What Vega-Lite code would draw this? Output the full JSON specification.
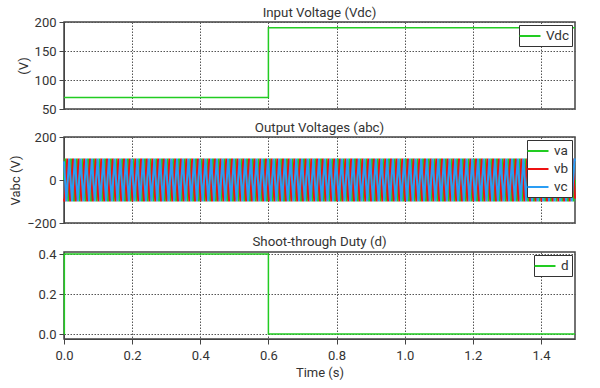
{
"$schema": "https://vega.github.io/schema/vega-lite/v6.json",
"padding": {"left": 8, "top": 4, "right": 20, "bottom": 2},
"background": "white",
"config": {
  "font": "Roboto",
  "view": {"stroke": "#444", "strokeWidth": 1.5},
  "axis": {"labelColor": "#333", "labelFontSize": 13, "labelFont": "Roboto", "labelFlush": false, "tickColor": "#444", "domainColor": "#444", "tickSize": 5, "labelPadding": 3, "gridColor": "#555", "gridDash": [1.5, 1.5], "gridOpacity": 1, "titleFontWeight": "normal", "titleFontSize": 13, "titleColor": "#333", "titleFont": "Roboto"},
  "title": {"fontSize": 13.3, "fontWeight": "normal", "color": "#333", "offset": -3, "font": "Roboto"},
  "legend": {"orient": "top-right", "offset": 3, "fillColor": "white", "strokeColor": "#333", "padding": 3, "labelFontSize": 13.5, "labelColor": "#333", "labelFont": "Roboto", "symbolType": "M-1.5,0L1.5,0", "symbolSize": 196, "symbolStrokeWidth": 2, "labelOffset": 8, "rowPadding": 3, "title": null},
  "concat": {"spacing": 2}
},
"resolve": {"scale": {"color": "independent"}, "legend": {"color": "independent"}},
"datasets": {
  "dc": [
    {"t": 0, "s": "Vdc", "v": 70},
    {"t": 0.6, "s": "Vdc", "v": 190},
    {"t": 1.5, "s": "Vdc", "v": 190}
  ],
  "duty": [
    {"t": 0, "s": "d", "v": 0},
    {"t": 0.001, "s": "d", "v": 0.4},
    {"t": 0.6, "s": "d", "v": 0},
    {"t": 1.5, "s": "d", "v": 0}
  ],
  "vabc": [
{"t":0,"s":"va","v":0},{"t":0,"s":"vb","v":-86.6},{"t":0,"s":"vc","v":86.6},
{"t":0.0014,"s":"vb","v":-100},{"t":0.0042,"s":"va","v":100},{"t":0.0069,"s":"vc","v":-100},{"t":0.0097,"s":"vb","v":100},{"t":0.0125,"s":"va","v":-100},{"t":0.0153,"s":"vc","v":100},{"t":0.0181,"s":"vb","v":-100},{"t":0.0208,"s":"va","v":100},{"t":0.0236,"s":"vc","v":-100},{"t":0.0264,"s":"vb","v":100},{"t":0.0292,"s":"va","v":-100},{"t":0.0319,"s":"vc","v":100},{"t":0.0347,"s":"vb","v":-100},{"t":0.0375,"s":"va","v":100},{"t":0.0403,"s":"vc","v":-100},{"t":0.0431,"s":"vb","v":100},{"t":0.0458,"s":"va","v":-100},{"t":0.0486,"s":"vc","v":100},
{"t":0.0514,"s":"vb","v":-100},{"t":0.0542,"s":"va","v":100},{"t":0.0569,"s":"vc","v":-100},{"t":0.0597,"s":"vb","v":100},{"t":0.0625,"s":"va","v":-100},{"t":0.0653,"s":"vc","v":100},{"t":0.0681,"s":"vb","v":-100},{"t":0.0708,"s":"va","v":100},{"t":0.0736,"s":"vc","v":-100},{"t":0.0764,"s":"vb","v":100},{"t":0.0792,"s":"va","v":-100},{"t":0.0819,"s":"vc","v":100},{"t":0.0847,"s":"vb","v":-100},{"t":0.0875,"s":"va","v":100},{"t":0.0903,"s":"vc","v":-100},{"t":0.0931,"s":"vb","v":100},{"t":0.0958,"s":"va","v":-100},{"t":0.0986,"s":"vc","v":100},
{"t":0.1014,"s":"vb","v":-100},{"t":0.1042,"s":"va","v":100},{"t":0.1069,"s":"vc","v":-100},{"t":0.1097,"s":"vb","v":100},{"t":0.1125,"s":"va","v":-100},{"t":0.1153,"s":"vc","v":100},{"t":0.1181,"s":"vb","v":-100},{"t":0.1208,"s":"va","v":100},{"t":0.1236,"s":"vc","v":-100},{"t":0.1264,"s":"vb","v":100},{"t":0.1292,"s":"va","v":-100},{"t":0.1319,"s":"vc","v":100},{"t":0.1347,"s":"vb","v":-100},{"t":0.1375,"s":"va","v":100},{"t":0.1403,"s":"vc","v":-100},{"t":0.1431,"s":"vb","v":100},{"t":0.1458,"s":"va","v":-100},{"t":0.1486,"s":"vc","v":100},
{"t":0.1514,"s":"vb","v":-100},{"t":0.1542,"s":"va","v":100},{"t":0.1569,"s":"vc","v":-100},{"t":0.1597,"s":"vb","v":100},{"t":0.1625,"s":"va","v":-100},{"t":0.1653,"s":"vc","v":100},{"t":0.1681,"s":"vb","v":-100},{"t":0.1708,"s":"va","v":100},{"t":0.1736,"s":"vc","v":-100},{"t":0.1764,"s":"vb","v":100},{"t":0.1792,"s":"va","v":-100},{"t":0.1819,"s":"vc","v":100},{"t":0.1847,"s":"vb","v":-100},{"t":0.1875,"s":"va","v":100},{"t":0.1903,"s":"vc","v":-100},{"t":0.1931,"s":"vb","v":100},{"t":0.1958,"s":"va","v":-100},{"t":0.1986,"s":"vc","v":100},
{"t":0.2014,"s":"vb","v":-100},{"t":0.2042,"s":"va","v":100},{"t":0.2069,"s":"vc","v":-100},{"t":0.2097,"s":"vb","v":100},{"t":0.2125,"s":"va","v":-100},{"t":0.2153,"s":"vc","v":100},{"t":0.2181,"s":"vb","v":-100},{"t":0.2208,"s":"va","v":100},{"t":0.2236,"s":"vc","v":-100},{"t":0.2264,"s":"vb","v":100},{"t":0.2292,"s":"va","v":-100},{"t":0.2319,"s":"vc","v":100},{"t":0.2347,"s":"vb","v":-100},{"t":0.2375,"s":"va","v":100},{"t":0.2403,"s":"vc","v":-100},{"t":0.2431,"s":"vb","v":100},{"t":0.2458,"s":"va","v":-100},{"t":0.2486,"s":"vc","v":100},
{"t":0.2514,"s":"vb","v":-100},{"t":0.2542,"s":"va","v":100},{"t":0.2569,"s":"vc","v":-100},{"t":0.2597,"s":"vb","v":100},{"t":0.2625,"s":"va","v":-100},{"t":0.2653,"s":"vc","v":100},{"t":0.2681,"s":"vb","v":-100},{"t":0.2708,"s":"va","v":100},{"t":0.2736,"s":"vc","v":-100},{"t":0.2764,"s":"vb","v":100},{"t":0.2792,"s":"va","v":-100},{"t":0.2819,"s":"vc","v":100},{"t":0.2847,"s":"vb","v":-100},{"t":0.2875,"s":"va","v":100},{"t":0.2903,"s":"vc","v":-100},{"t":0.2931,"s":"vb","v":100},{"t":0.2958,"s":"va","v":-100},{"t":0.2986,"s":"vc","v":100},
{"t":0.3014,"s":"vb","v":-100},{"t":0.3042,"s":"va","v":100},{"t":0.3069,"s":"vc","v":-100},{"t":0.3097,"s":"vb","v":100},{"t":0.3125,"s":"va","v":-100},{"t":0.3153,"s":"vc","v":100},{"t":0.3181,"s":"vb","v":-100},{"t":0.3208,"s":"va","v":100},{"t":0.3236,"s":"vc","v":-100},{"t":0.3264,"s":"vb","v":100},{"t":0.3292,"s":"va","v":-100},{"t":0.3319,"s":"vc","v":100},{"t":0.3347,"s":"vb","v":-100},{"t":0.3375,"s":"va","v":100},{"t":0.3403,"s":"vc","v":-100},{"t":0.3431,"s":"vb","v":100},{"t":0.3458,"s":"va","v":-100},{"t":0.3486,"s":"vc","v":100},
{"t":0.3514,"s":"vb","v":-100},{"t":0.3542,"s":"va","v":100},{"t":0.3569,"s":"vc","v":-100},{"t":0.3597,"s":"vb","v":100},{"t":0.3625,"s":"va","v":-100},{"t":0.3653,"s":"vc","v":100},{"t":0.3681,"s":"vb","v":-100},{"t":0.3708,"s":"va","v":100},{"t":0.3736,"s":"vc","v":-100},{"t":0.3764,"s":"vb","v":100},{"t":0.3792,"s":"va","v":-100},{"t":0.3819,"s":"vc","v":100},{"t":0.3847,"s":"vb","v":-100},{"t":0.3875,"s":"va","v":100},{"t":0.3903,"s":"vc","v":-100},{"t":0.3931,"s":"vb","v":100},{"t":0.3958,"s":"va","v":-100},{"t":0.3986,"s":"vc","v":100},
{"t":0.4014,"s":"vb","v":-100},{"t":0.4042,"s":"va","v":100},{"t":0.4069,"s":"vc","v":-100},{"t":0.4097,"s":"vb","v":100},{"t":0.4125,"s":"va","v":-100},{"t":0.4153,"s":"vc","v":100},{"t":0.4181,"s":"vb","v":-100},{"t":0.4208,"s":"va","v":100},{"t":0.4236,"s":"vc","v":-100},{"t":0.4264,"s":"vb","v":100},{"t":0.4292,"s":"va","v":-100},{"t":0.4319,"s":"vc","v":100},{"t":0.4347,"s":"vb","v":-100},{"t":0.4375,"s":"va","v":100},{"t":0.4403,"s":"vc","v":-100},{"t":0.4431,"s":"vb","v":100},{"t":0.4458,"s":"va","v":-100},{"t":0.4486,"s":"vc","v":100},
{"t":0.4514,"s":"vb","v":-100},{"t":0.4542,"s":"va","v":100},{"t":0.4569,"s":"vc","v":-100},{"t":0.4597,"s":"vb","v":100},{"t":0.4625,"s":"va","v":-100},{"t":0.4653,"s":"vc","v":100},{"t":0.4681,"s":"vb","v":-100},{"t":0.4708,"s":"va","v":100},{"t":0.4736,"s":"vc","v":-100},{"t":0.4764,"s":"vb","v":100},{"t":0.4792,"s":"va","v":-100},{"t":0.4819,"s":"vc","v":100},{"t":0.4847,"s":"vb","v":-100},{"t":0.4875,"s":"va","v":100},{"t":0.4903,"s":"vc","v":-100},{"t":0.4931,"s":"vb","v":100},{"t":0.4958,"s":"va","v":-100},{"t":0.4986,"s":"vc","v":100},
{"t":0.5014,"s":"vb","v":-100},{"t":0.5042,"s":"va","v":100},{"t":0.5069,"s":"vc","v":-100},{"t":0.5097,"s":"vb","v":100},{"t":0.5125,"s":"va","v":-100},{"t":0.5153,"s":"vc","v":100},{"t":0.5181,"s":"vb","v":-100},{"t":0.5208,"s":"va","v":100},{"t":0.5236,"s":"vc","v":-100},{"t":0.5264,"s":"vb","v":100},{"t":0.5292,"s":"va","v":-100},{"t":0.5319,"s":"vc","v":100},{"t":0.5347,"s":"vb","v":-100},{"t":0.5375,"s":"va","v":100},{"t":0.5403,"s":"vc","v":-100},{"t":0.5431,"s":"vb","v":100},{"t":0.5458,"s":"va","v":-100},{"t":0.5486,"s":"vc","v":100},
{"t":0.5514,"s":"vb","v":-100},{"t":0.5542,"s":"va","v":100},{"t":0.5569,"s":"vc","v":-100},{"t":0.5597,"s":"vb","v":100},{"t":0.5625,"s":"va","v":-100},{"t":0.5653,"s":"vc","v":100},{"t":0.5681,"s":"vb","v":-100},{"t":0.5708,"s":"va","v":100},{"t":0.5736,"s":"vc","v":-100},{"t":0.5764,"s":"vb","v":100},{"t":0.5792,"s":"va","v":-100},{"t":0.5819,"s":"vc","v":100},{"t":0.5847,"s":"vb","v":-100},{"t":0.5875,"s":"va","v":100},{"t":0.5903,"s":"vc","v":-100},{"t":0.5931,"s":"vb","v":100},{"t":0.5958,"s":"va","v":-100},{"t":0.5986,"s":"vc","v":100},
{"t":0.6014,"s":"vb","v":-100},{"t":0.6042,"s":"va","v":100},{"t":0.6069,"s":"vc","v":-100},{"t":0.6097,"s":"vb","v":100},{"t":0.6125,"s":"va","v":-100},{"t":0.6153,"s":"vc","v":100},{"t":0.6181,"s":"vb","v":-100},{"t":0.6208,"s":"va","v":100},{"t":0.6236,"s":"vc","v":-100},{"t":0.6264,"s":"vb","v":100},{"t":0.6292,"s":"va","v":-100},{"t":0.6319,"s":"vc","v":100},{"t":0.6347,"s":"vb","v":-100},{"t":0.6375,"s":"va","v":100},{"t":0.6403,"s":"vc","v":-100},{"t":0.6431,"s":"vb","v":100},{"t":0.6458,"s":"va","v":-100},{"t":0.6486,"s":"vc","v":100},
{"t":0.6514,"s":"vb","v":-100},{"t":0.6542,"s":"va","v":100},{"t":0.6569,"s":"vc","v":-100},{"t":0.6597,"s":"vb","v":100},{"t":0.6625,"s":"va","v":-100},{"t":0.6653,"s":"vc","v":100},{"t":0.6681,"s":"vb","v":-100},{"t":0.6708,"s":"va","v":100},{"t":0.6736,"s":"vc","v":-100},{"t":0.6764,"s":"vb","v":100},{"t":0.6792,"s":"va","v":-100},{"t":0.6819,"s":"vc","v":100},{"t":0.6847,"s":"vb","v":-100},{"t":0.6875,"s":"va","v":100},{"t":0.6903,"s":"vc","v":-100},{"t":0.6931,"s":"vb","v":100},{"t":0.6958,"s":"va","v":-100},{"t":0.6986,"s":"vc","v":100},
{"t":0.7014,"s":"vb","v":-100},{"t":0.7042,"s":"va","v":100},{"t":0.7069,"s":"vc","v":-100},{"t":0.7097,"s":"vb","v":100},{"t":0.7125,"s":"va","v":-100},{"t":0.7153,"s":"vc","v":100},{"t":0.7181,"s":"vb","v":-100},{"t":0.7208,"s":"va","v":100},{"t":0.7236,"s":"vc","v":-100},{"t":0.7264,"s":"vb","v":100},{"t":0.7292,"s":"va","v":-100},{"t":0.7319,"s":"vc","v":100},{"t":0.7347,"s":"vb","v":-100},{"t":0.7375,"s":"va","v":100},{"t":0.7403,"s":"vc","v":-100},{"t":0.7431,"s":"vb","v":100},{"t":0.7458,"s":"va","v":-100},{"t":0.7486,"s":"vc","v":100},
{"t":0.7514,"s":"vb","v":-100},{"t":0.7542,"s":"va","v":100},{"t":0.7569,"s":"vc","v":-100},{"t":0.7597,"s":"vb","v":100},{"t":0.7625,"s":"va","v":-100},{"t":0.7653,"s":"vc","v":100},{"t":0.7681,"s":"vb","v":-100},{"t":0.7708,"s":"va","v":100},{"t":0.7736,"s":"vc","v":-100},{"t":0.7764,"s":"vb","v":100},{"t":0.7792,"s":"va","v":-100},{"t":0.7819,"s":"vc","v":100},{"t":0.7847,"s":"vb","v":-100},{"t":0.7875,"s":"va","v":100},{"t":0.7903,"s":"vc","v":-100},{"t":0.7931,"s":"vb","v":100},{"t":0.7958,"s":"va","v":-100},{"t":0.7986,"s":"vc","v":100},
{"t":0.8014,"s":"vb","v":-100},{"t":0.8042,"s":"va","v":100},{"t":0.8069,"s":"vc","v":-100},{"t":0.8097,"s":"vb","v":100},{"t":0.8125,"s":"va","v":-100},{"t":0.8153,"s":"vc","v":100},{"t":0.8181,"s":"vb","v":-100},{"t":0.8208,"s":"va","v":100},{"t":0.8236,"s":"vc","v":-100},{"t":0.8264,"s":"vb","v":100},{"t":0.8292,"s":"va","v":-100},{"t":0.8319,"s":"vc","v":100},{"t":0.8347,"s":"vb","v":-100},{"t":0.8375,"s":"va","v":100},{"t":0.8403,"s":"vc","v":-100},{"t":0.8431,"s":"vb","v":100},{"t":0.8458,"s":"va","v":-100},{"t":0.8486,"s":"vc","v":100},
{"t":0.8514,"s":"vb","v":-100},{"t":0.8542,"s":"va","v":100},{"t":0.8569,"s":"vc","v":-100},{"t":0.8597,"s":"vb","v":100},{"t":0.8625,"s":"va","v":-100},{"t":0.8653,"s":"vc","v":100},{"t":0.8681,"s":"vb","v":-100},{"t":0.8708,"s":"va","v":100},{"t":0.8736,"s":"vc","v":-100},{"t":0.8764,"s":"vb","v":100},{"t":0.8792,"s":"va","v":-100},{"t":0.8819,"s":"vc","v":100},{"t":0.8847,"s":"vb","v":-100},{"t":0.8875,"s":"va","v":100},{"t":0.8903,"s":"vc","v":-100},{"t":0.8931,"s":"vb","v":100},{"t":0.8958,"s":"va","v":-100},{"t":0.8986,"s":"vc","v":100},
{"t":0.9014,"s":"vb","v":-100},{"t":0.9042,"s":"va","v":100},{"t":0.9069,"s":"vc","v":-100},{"t":0.9097,"s":"vb","v":100},{"t":0.9125,"s":"va","v":-100},{"t":0.9153,"s":"vc","v":100},{"t":0.9181,"s":"vb","v":-100},{"t":0.9208,"s":"va","v":100},{"t":0.9236,"s":"vc","v":-100},{"t":0.9264,"s":"vb","v":100},{"t":0.9292,"s":"va","v":-100},{"t":0.9319,"s":"vc","v":100},{"t":0.9347,"s":"vb","v":-100},{"t":0.9375,"s":"va","v":100},{"t":0.9403,"s":"vc","v":-100},{"t":0.9431,"s":"vb","v":100},{"t":0.9458,"s":"va","v":-100},{"t":0.9486,"s":"vc","v":100},
{"t":0.9514,"s":"vb","v":-100},{"t":0.9542,"s":"va","v":100},{"t":0.9569,"s":"vc","v":-100},{"t":0.9597,"s":"vb","v":100},{"t":0.9625,"s":"va","v":-100},{"t":0.9653,"s":"vc","v":100},{"t":0.9681,"s":"vb","v":-100},{"t":0.9708,"s":"va","v":100},{"t":0.9736,"s":"vc","v":-100},{"t":0.9764,"s":"vb","v":100},{"t":0.9792,"s":"va","v":-100},{"t":0.9819,"s":"vc","v":100},{"t":0.9847,"s":"vb","v":-100},{"t":0.9875,"s":"va","v":100},{"t":0.9903,"s":"vc","v":-100},{"t":0.9931,"s":"vb","v":100},{"t":0.9958,"s":"va","v":-100},{"t":0.9986,"s":"vc","v":100},
{"t":1.0014,"s":"vb","v":-100},{"t":1.0042,"s":"va","v":100},{"t":1.0069,"s":"vc","v":-100},{"t":1.0097,"s":"vb","v":100},{"t":1.0125,"s":"va","v":-100},{"t":1.0153,"s":"vc","v":100},{"t":1.0181,"s":"vb","v":-100},{"t":1.0208,"s":"va","v":100},{"t":1.0236,"s":"vc","v":-100},{"t":1.0264,"s":"vb","v":100},{"t":1.0292,"s":"va","v":-100},{"t":1.0319,"s":"vc","v":100},{"t":1.0347,"s":"vb","v":-100},{"t":1.0375,"s":"va","v":100},{"t":1.0403,"s":"vc","v":-100},{"t":1.0431,"s":"vb","v":100},{"t":1.0458,"s":"va","v":-100},{"t":1.0486,"s":"vc","v":100},
{"t":1.0514,"s":"vb","v":-100},{"t":1.0542,"s":"va","v":100},{"t":1.0569,"s":"vc","v":-100},{"t":1.0597,"s":"vb","v":100},{"t":1.0625,"s":"va","v":-100},{"t":1.0653,"s":"vc","v":100},{"t":1.0681,"s":"vb","v":-100},{"t":1.0708,"s":"va","v":100},{"t":1.0736,"s":"vc","v":-100},{"t":1.0764,"s":"vb","v":100},{"t":1.0792,"s":"va","v":-100},{"t":1.0819,"s":"vc","v":100},{"t":1.0847,"s":"vb","v":-100},{"t":1.0875,"s":"va","v":100},{"t":1.0903,"s":"vc","v":-100},{"t":1.0931,"s":"vb","v":100},{"t":1.0958,"s":"va","v":-100},{"t":1.0986,"s":"vc","v":100},
{"t":1.1014,"s":"vb","v":-100},{"t":1.1042,"s":"va","v":100},{"t":1.1069,"s":"vc","v":-100},{"t":1.1097,"s":"vb","v":100},{"t":1.1125,"s":"va","v":-100},{"t":1.1153,"s":"vc","v":100},{"t":1.1181,"s":"vb","v":-100},{"t":1.1208,"s":"va","v":100},{"t":1.1236,"s":"vc","v":-100},{"t":1.1264,"s":"vb","v":100},{"t":1.1292,"s":"va","v":-100},{"t":1.1319,"s":"vc","v":100},{"t":1.1347,"s":"vb","v":-100},{"t":1.1375,"s":"va","v":100},{"t":1.1403,"s":"vc","v":-100},{"t":1.1431,"s":"vb","v":100},{"t":1.1458,"s":"va","v":-100},{"t":1.1486,"s":"vc","v":100},
{"t":1.1514,"s":"vb","v":-100},{"t":1.1542,"s":"va","v":100},{"t":1.1569,"s":"vc","v":-100},{"t":1.1597,"s":"vb","v":100},{"t":1.1625,"s":"va","v":-100},{"t":1.1653,"s":"vc","v":100},{"t":1.1681,"s":"vb","v":-100},{"t":1.1708,"s":"va","v":100},{"t":1.1736,"s":"vc","v":-100},{"t":1.1764,"s":"vb","v":100},{"t":1.1792,"s":"va","v":-100},{"t":1.1819,"s":"vc","v":100},{"t":1.1847,"s":"vb","v":-100},{"t":1.1875,"s":"va","v":100},{"t":1.1903,"s":"vc","v":-100},{"t":1.1931,"s":"vb","v":100},{"t":1.1958,"s":"va","v":-100},{"t":1.1986,"s":"vc","v":100},
{"t":1.2014,"s":"vb","v":-100},{"t":1.2042,"s":"va","v":100},{"t":1.2069,"s":"vc","v":-100},{"t":1.2097,"s":"vb","v":100},{"t":1.2125,"s":"va","v":-100},{"t":1.2153,"s":"vc","v":100},{"t":1.2181,"s":"vb","v":-100},{"t":1.2208,"s":"va","v":100},{"t":1.2236,"s":"vc","v":-100},{"t":1.2264,"s":"vb","v":100},{"t":1.2292,"s":"va","v":-100},{"t":1.2319,"s":"vc","v":100},{"t":1.2347,"s":"vb","v":-100},{"t":1.2375,"s":"va","v":100},{"t":1.2403,"s":"vc","v":-100},{"t":1.2431,"s":"vb","v":100},{"t":1.2458,"s":"va","v":-100},{"t":1.2486,"s":"vc","v":100},
{"t":1.2514,"s":"vb","v":-100},{"t":1.2542,"s":"va","v":100},{"t":1.2569,"s":"vc","v":-100},{"t":1.2597,"s":"vb","v":100},{"t":1.2625,"s":"va","v":-100},{"t":1.2653,"s":"vc","v":100},{"t":1.2681,"s":"vb","v":-100},{"t":1.2708,"s":"va","v":100},{"t":1.2736,"s":"vc","v":-100},{"t":1.2764,"s":"vb","v":100},{"t":1.2792,"s":"va","v":-100},{"t":1.2819,"s":"vc","v":100},{"t":1.2847,"s":"vb","v":-100},{"t":1.2875,"s":"va","v":100},{"t":1.2903,"s":"vc","v":-100},{"t":1.2931,"s":"vb","v":100},{"t":1.2958,"s":"va","v":-100},{"t":1.2986,"s":"vc","v":100},
{"t":1.3014,"s":"vb","v":-100},{"t":1.3042,"s":"va","v":100},{"t":1.3069,"s":"vc","v":-100},{"t":1.3097,"s":"vb","v":100},{"t":1.3125,"s":"va","v":-100},{"t":1.3153,"s":"vc","v":100},{"t":1.3181,"s":"vb","v":-100},{"t":1.3208,"s":"va","v":100},{"t":1.3236,"s":"vc","v":-100},{"t":1.3264,"s":"vb","v":100},{"t":1.3292,"s":"va","v":-100},{"t":1.3319,"s":"vc","v":100},{"t":1.3347,"s":"vb","v":-100},{"t":1.3375,"s":"va","v":100},{"t":1.3403,"s":"vc","v":-100},{"t":1.3431,"s":"vb","v":100},{"t":1.3458,"s":"va","v":-100},{"t":1.3486,"s":"vc","v":100},
{"t":1.3514,"s":"vb","v":-100},{"t":1.3542,"s":"va","v":100},{"t":1.3569,"s":"vc","v":-100},{"t":1.3597,"s":"vb","v":100},{"t":1.3625,"s":"va","v":-100},{"t":1.3653,"s":"vc","v":100},{"t":1.3681,"s":"vb","v":-100},{"t":1.3708,"s":"va","v":100},{"t":1.3736,"s":"vc","v":-100},{"t":1.3764,"s":"vb","v":100},{"t":1.3792,"s":"va","v":-100},{"t":1.3819,"s":"vc","v":100},{"t":1.3847,"s":"vb","v":-100},{"t":1.3875,"s":"va","v":100},{"t":1.3903,"s":"vc","v":-100},{"t":1.3931,"s":"vb","v":100},{"t":1.3958,"s":"va","v":-100},{"t":1.3986,"s":"vc","v":100},
{"t":1.4014,"s":"vb","v":-100},{"t":1.4042,"s":"va","v":100},{"t":1.4069,"s":"vc","v":-100},{"t":1.4097,"s":"vb","v":100},{"t":1.4125,"s":"va","v":-100},{"t":1.4153,"s":"vc","v":100},{"t":1.4181,"s":"vb","v":-100},{"t":1.4208,"s":"va","v":100},{"t":1.4236,"s":"vc","v":-100},{"t":1.4264,"s":"vb","v":100},{"t":1.4292,"s":"va","v":-100},{"t":1.4319,"s":"vc","v":100},{"t":1.4347,"s":"vb","v":-100},{"t":1.4375,"s":"va","v":100},{"t":1.4403,"s":"vc","v":-100},{"t":1.4431,"s":"vb","v":100},{"t":1.4458,"s":"va","v":-100},{"t":1.4486,"s":"vc","v":100},
{"t":1.4514,"s":"vb","v":-100},{"t":1.4542,"s":"va","v":100},{"t":1.4569,"s":"vc","v":-100},{"t":1.4597,"s":"vb","v":100},{"t":1.4625,"s":"va","v":-100},{"t":1.4653,"s":"vc","v":100},{"t":1.4681,"s":"vb","v":-100},{"t":1.4708,"s":"va","v":100},{"t":1.4736,"s":"vc","v":-100},{"t":1.4764,"s":"vb","v":100},{"t":1.4792,"s":"va","v":-100},{"t":1.4819,"s":"vc","v":100},{"t":1.4847,"s":"vb","v":-100},{"t":1.4875,"s":"va","v":100},{"t":1.4903,"s":"vc","v":-100},{"t":1.4931,"s":"vb","v":100},{"t":1.4958,"s":"va","v":-100},{"t":1.4986,"s":"vc","v":100},
{"t":1.5,"s":"va","v":0},{"t":1.5,"s":"vb","v":-86.6},{"t":1.5,"s":"vc","v":86.6}
  ]
},
"vconcat": [
  {
    "title": "Input Voltage (Vdc)",
    "width": 511, "height": 87,
    "data": {"name": "dc"},
    "mark": {"type": "line", "interpolate": "step-after", "strokeWidth": 1.5},
    "encoding": {
      "x": {"field": "t", "type": "quantitative", "scale": {"domain": [0, 1.5], "nice": false}, "axis": {"values": [0, 0.2, 0.4, 0.6, 0.8, 1, 1.2, 1.4], "labels": false, "ticks": false, "domain": false, "title": null}},
      "y": {"field": "v", "type": "quantitative", "scale": {"domain": [50, 200], "nice": false, "zero": false}, "axis": {"values": [50, 100, 150, 200], "title": "(V)"}},
      "color": {"field": "s", "type": "nominal", "scale": {"domain": ["Vdc"], "range": ["#22cc22"]}}
    }
  },
  {
    "title": "Output Voltages (abc)",
    "width": 511, "height": 86,
    "data": {"name": "vabc"},
    "mark": {"type": "line", "strokeWidth": 2},
    "encoding": {
      "x": {"field": "t", "type": "quantitative", "scale": {"domain": [0, 1.5], "nice": false}, "axis": {"values": [0, 0.2, 0.4, 0.6, 0.8, 1, 1.2, 1.4], "labels": false, "ticks": false, "domain": false, "title": null}},
      "y": {"field": "v", "type": "quantitative", "scale": {"domain": [-200, 200], "nice": false}, "axis": {"values": [-200, 0, 200], "title": "Vabc (V)"}},
      "color": {"field": "s", "type": "nominal", "scale": {"domain": ["va", "vb", "vc"], "range": ["#22cc22", "#ee1111", "#2a9df4"]}}
    }
  },
  {
    "title": {"text": "Shoot-through Duty (d)", "offset": 0},
    "width": 511, "height": 87,
    "data": {"name": "duty"},
    "mark": {"type": "line", "interpolate": "step-after", "strokeWidth": 1.5},
    "encoding": {
      "x": {"field": "t", "type": "quantitative", "scale": {"domain": [0, 1.5], "nice": false}, "axis": {"values": [0, 0.2, 0.4, 0.6, 0.8, 1, 1.2, 1.4], "format": ".1f", "labelPadding": 5, "title": "Time (s)"}},
      "y": {"field": "v", "type": "quantitative", "scale": {"domain": [-0.025, 0.41], "nice": false, "zero": false}, "axis": {"values": [0, 0.2, 0.4], "format": ".1f", "title": null}},
      "color": {"field": "s", "type": "nominal", "scale": {"domain": ["d"], "range": ["#22cc22"]}}
    }
  }
]
}
